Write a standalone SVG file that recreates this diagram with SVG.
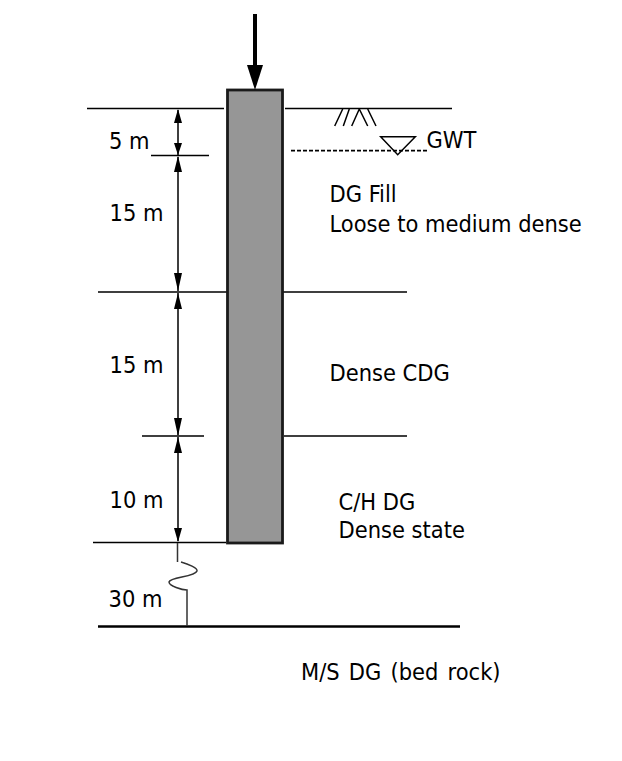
<svg xmlns="http://www.w3.org/2000/svg" width="622" height="761" viewBox="0 0 622 761">
<style>
.l{stroke:#000;stroke-width:1.500;fill:none}
.t{font-family:"DejaVu Sans",sans-serif;font-stretch:condensed;font-size:23.400px;fill:#000}
</style>
<rect width="622" height="761" fill="#fff"/>
<g id="levels">
<path class="l" d="M87 108.500H224M285 108.500H452M151 155.500H209M98 292H230M283 292H407M142 436H204M284 436H407M93 542.500H226"/>
<path d="M98 626.500H460" stroke="#000" stroke-width="2.600" fill="none"/>
</g>
<g id="pile"><rect x="227.500" y="90" width="55" height="453" fill="#969696" stroke="#1a1a1a" stroke-width="2.800"/></g>
<g id="load"><path d="M255 14V68" stroke="#000" stroke-width="4"/><path d="M247 65H263L255 90Z"/></g>
<g id="ground">
<path class="l" d="M342.700 109L334.700 126M349.300 109L343.300 126M359.300 109L351.700 126M359.300 109L367.700 126M367.700 109L376 126"/>
<path d="M291 150.700H427" stroke="#000" stroke-width="1.700" stroke-dasharray="4 2" fill="none"/>
<path class="l" d="M380.700 136.700H415.300L397.700 154.700Z"/>
</g>
<g id="connectors" class="l">
<path d="M178 110V155M178 157V291M178 293V435M178 437V541"/>
<path d="M178 109L174 123H182ZM178 155L174 143H182ZM178 156L174 172H182ZM178 291L174 273H182ZM178 293L174 309H182ZM178 436L174 418H182ZM178 437L174 453H182ZM178 542L174 528H182Z" fill="#000" stroke="none"/>
<path d="M177.500 543V562M181 562C188 564 198 568 197 571C195 577 170 577 169 582C169 586 182 590 187 590V626" stroke="#333"/>
</g>
<g id="labels">
<text class="t" x="109" y="149">5 m</text>
<text class="t" x="109.500" y="221">15 m</text>
<text class="t" x="109.500" y="373">15 m</text>
<text class="t" x="109.500" y="508">10 m</text>
<text class="t" x="108.500" y="607">30 m</text>
<text class="t" x="426.500" y="148">GWT</text>
<text class="t" x="329.500" y="202">DG Fill</text>
<text class="t" x="329.500" y="232">Loose to medium dense</text>
<text class="t" x="329.500" y="381">Dense CDG</text>
<text class="t" x="338.500" y="510">C/H DG</text>
<text class="t" x="338.500" y="538">Dense state</text>
<text class="t" x="301" y="680" word-spacing="2.500">M/S DG (bed rock)</text>
</g>
</svg>
